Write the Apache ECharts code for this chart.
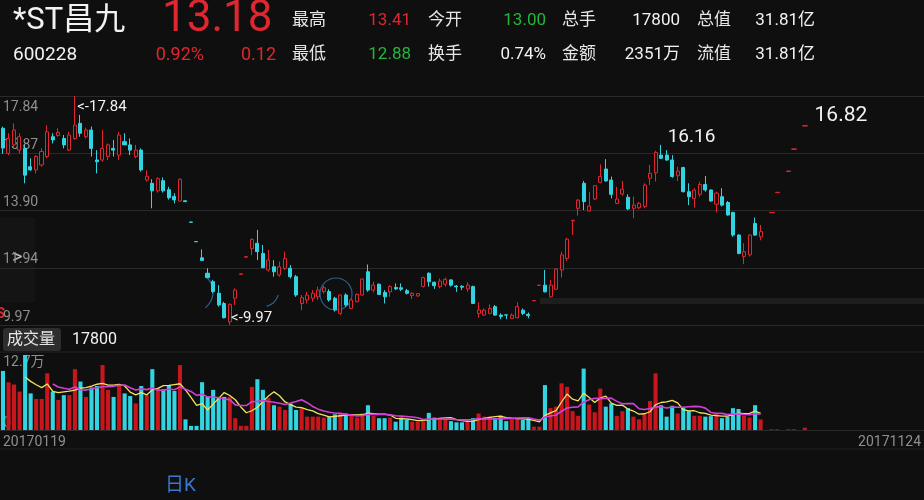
<!DOCTYPE html>
<html><head><meta charset="utf-8">
<script src="https://cdn.jsdelivr.net/npm/echarts@6/dist/echarts.min.js"></script>
<style>html,body{margin:0;padding:0;background:#0f0f0f;}#c{width:924px;height:500px;}</style>
</head><body><div id="c"></div>
<script>
// ---------- data ----------
const slotCount = 167;
const firstDate = '20170119';
const lastDate = '20171124';

const opens = [
16.73,15.87,16.16,15.98,16.04,15.41,15.30,15.47,15.76,16.44,
16.48,16.38,15.98,16.38,16.90,16.44,16.67,15.64,15.64,15.76,
16.04,15.81,16.27,16.16,15.76,15.98,14.95,14.84,14.58,14.93,
14.62,14.39,14.23,14.24,13.51,12.84,12.28,11.75,11.46,11.06,
10.71,10.08,10.89,11.71,12.30,12.60,12.78,12.43,11.86,11.97,
11.69,11.92,11.92,11.63,10.71,10.83,10.89,10.94,11.12,11.12,
10.89,10.37,11.00,10.54,10.77,11.00,11.80,11.17,11.37,11.09,
11.11,11.26,11.25,11.15,10.98,10.97,11.29,11.75,11.44,11.29,
11.37,11.52,11.31,11.30,11.21,11.29,10.37,10.31,10.37,10.60,
10.31,10.32,10.20,10.22,10.48,10.34,10.80,11.33,11.34,10.94,
11.20,11.86,12.26,13.55,13.98,14.84,13.89,14.30,14.87,15.33,
14.95,14.15,14.47,14.36,13.98,14.00,14.04,15.01,15.20,15.81,
15.81,15.64,15.10,15.38,14.55,14.32,14.46,14.80,14.61,14.12,
14.38,14.18,13.84,13.06,12.32,12.38,13.46,13.00];
const closes = [
16.05,16.38,16.67,16.44,15.12,15.30,15.76,15.93,16.61,16.33,
16.59,16.16,16.50,16.84,16.56,16.67,16.04,15.58,16.04,16.16,
15.98,16.50,16.16,15.98,15.98,15.30,15.08,14.58,15.00,14.58,
14.34,14.27,14.98,14.21,13.50,12.83,12.19,11.60,11.12,10.66,
10.22,10.68,11.17,11.73,12.32,12.91,12.49,11.94,12.20,11.80,
11.97,12.26,11.63,11.00,10.91,11.00,11.06,11.17,11.25,10.83,
10.49,11.00,10.66,10.83,11.02,11.55,11.17,11.34,11.02,10.94,
11.29,11.21,11.20,11.06,11.06,11.05,11.60,11.46,11.32,11.48,
11.54,11.34,11.28,11.27,11.34,10.71,10.49,10.48,10.54,10.31,
10.26,10.31,10.31,10.60,10.37,10.29,10.81,11.34,11.11,11.34,
11.89,12.38,12.92,13.57,14.26,14.21,14.06,14.76,15.07,14.92,
14.46,14.30,14.64,13.96,14.09,14.15,14.78,15.18,15.90,15.70,
15.64,15.07,15.26,14.55,14.38,14.61,14.80,14.61,14.23,14.50,
14.09,13.75,13.06,12.43,12.49,13.06,13.06,13.18];
const lows = [
15.85,15.81,16.04,15.87,14.84,15.27,15.18,15.41,15.70,16.21,
16.44,16.04,15.95,16.33,16.44,16.38,15.76,15.18,15.58,15.64,
15.76,15.64,16.16,15.81,15.70,15.24,14.90,13.98,14.52,14.52,
14.28,14.15,14.21,14.20,13.50,12.83,12.19,11.58,11.06,10.60,
10.20,9.97,10.66,11.71,12.30,12.37,12.20,11.92,11.80,11.63,
11.63,11.86,11.57,10.94,10.48,10.71,10.77,10.83,11.05,10.77,
10.43,10.31,10.60,10.52,10.75,10.98,11.11,11.09,11.00,10.71,
10.94,11.17,11.14,11.02,10.86,10.94,11.26,11.29,11.21,11.23,
11.29,11.29,11.11,11.17,11.11,10.69,10.22,10.29,10.34,10.29,
10.17,10.17,10.17,10.20,10.31,10.20,10.80,11.33,11.09,10.91,
11.17,11.60,12.17,13.06,13.73,13.92,13.86,14.26,14.84,14.90,
14.32,14.12,14.41,13.92,13.64,13.95,13.98,14.78,14.90,15.67,
15.61,15.03,14.92,14.53,14.09,14.00,14.38,14.55,14.21,13.84,
14.04,13.73,13.00,12.40,12.06,12.32,13.04,12.88];
const highs = [
16.79,16.56,16.90,16.56,16.16,15.70,15.81,16.04,16.84,16.56,
16.73,16.50,16.61,17.84,17.19,16.75,16.79,15.98,16.67,16.21,
16.33,16.61,16.56,16.38,16.16,16.04,15.28,14.98,15.05,15.04,
14.72,14.50,15.01,14.25,13.51,12.84,12.57,11.92,11.52,11.34,
10.77,10.71,11.23,11.73,12.32,12.95,13.24,12.72,12.55,12.20,
12.15,12.49,12.03,11.69,11.00,11.11,11.17,11.29,11.32,11.20,
10.94,11.02,11.06,10.86,11.06,11.57,12.05,11.46,11.40,11.17,
11.34,11.40,11.40,11.21,11.09,11.07,11.63,11.78,11.46,11.57,
11.60,11.54,11.34,11.34,11.44,11.32,10.75,10.54,10.68,10.66,
10.37,10.32,10.37,10.75,10.54,10.40,10.81,11.34,11.86,11.52,
11.92,12.49,12.97,13.58,14.30,14.92,14.55,14.78,15.49,15.67,
15.07,14.72,14.92,14.46,14.38,14.20,14.84,15.47,15.96,16.16,
15.98,15.81,15.41,15.41,14.84,14.67,14.90,15.09,14.63,14.55,
14.67,14.23,13.86,13.09,12.78,13.09,13.66,13.41];
const volumes = [
100000,80700,77000,65000,127000,62000,52500,52500,96000,65000,
51000,59000,59000,103000,82000,56000,72000,74500,110000,68000,
56000,77000,62000,57500,45000,74500,59000,103000,70600,69000,
76000,66000,110000,18000,7000,7000,81000,56000,68000,56000,
56000,56000,20000,7000,7000,73000,86000,68000,54000,42000,
39500,34000,45000,34000,37000,22600,22600,22600,21000,22600,
26500,28000,28000,24000,21000,28000,42000,24000,20000,20000,
21000,14000,21000,17000,14000,14000,14000,29000,21000,21000,
18000,15000,13000,13000,14000,20000,28000,22600,22600,20000,
24000,15000,18000,20000,17000,20000,5600,5600,76000,37000,
39500,79000,73000,32000,24000,104000,43000,30000,70000,39500,
45000,24000,32000,37000,22600,18000,28000,49000,96000,42000,
22600,41000,28000,38000,32000,24000,24000,22600,23500,28000,
20000,22600,37000,35600,24000,21000,42000,17800];
// one-price limit-up days drawn after the last session
const futureSlots  = [139, 140, 142, 143, 145];
const futureOpens  = [13.83, 14.52, 15.25, 16.01, 16.81];
const futureCloses = [13.84, 14.53, 15.26, 16.02, 16.82];
const futureVolumes = [1100, 1100, 1100, 1100, 4000];

const priceMin = 9.97, priceMax = 17.84;
const priceTickLabels = ['9.97', '11.94', '13.90', '15.87', '17.84'];
const volumeMax = 127000;
const volumeMaxLabel = '12.7万';

// ---------- styling ----------
const BG = '#0f0f0f', RED = '#e0262e', RED_VOL = '#c9161d', CYAN = '#31d4e0', GREEN = '#22b63a';
const GRID = '#2a2a2a', LABEL = '#8f8f8f';
const FONT = 'Roboto, "Noto Sans CJK SC", sans-serif';

const cats = Array.from({length: slotCount}, (_, i) => String(i));
const candleData = cats.map((_, i) => i < opens.length ? [opens[i], closes[i], lows[i], highs[i]] : ['-', '-', '-', '-']);
const futureData = cats.map(() => ['-', '-', '-', '-']);
futureSlots.forEach((s, k) => { futureData[s] = [futureOpens[k], futureCloses[k], futureOpens[k], futureCloses[k]]; });
const volData = cats.map((_, i) => i < volumes.length ? volumes[i] : '-');
futureSlots.forEach((s, k) => { volData[s] = futureVolumes[k]; });
const volUp = cats.map((_, i) => i < opens.length ? closes[i] >= opens[i] : true);

function movingAverage(n) {
  return cats.map((_, i) => {
    if (i >= volumes.length || i < n - 1) return '-';
    let s = 0; for (let k = i - n + 1; k <= i; k++) s += volumes[k];
    return +(s / n).toFixed(0);
  });
}
const ma5 = movingAverage(5), ma10 = movingAverage(10);

// extreme points for labels
let hiIdx = 0, loIdx = 0;
highs.forEach((h, i) => { if (h > highs[hiIdx]) hiIdx = i; });
lows.forEach((l, i) => { if (l < lows[loIdx]) loIdx = i; });
let hi2Idx = loIdx;
for (let i = loIdx; i < highs.length; i++) if (highs[i] > highs[hi2Idx]) hi2Idx = i;
const lastF = futureSlots.length - 1;

const priceInterval = (priceMax - priceMin) / 4;
function priceLabel(v) { return priceTickLabels[Math.round((v - priceMin) / priceInterval)] || ''; }

function txt(text, x, y, size, color, align, weight) {
  return { type: 'text', x: x, y: y, silent: true, style: {
    text: text, fill: color, fontSize: size, fontFamily: FONT, fontWeight: weight || 'normal',
    align: align || 'left', textAlign: align || 'left', verticalAlign: 'middle', textVerticalAlign: 'middle' } };
}

const chart = echarts.init(document.getElementById('c'), null, {renderer: 'canvas'});
chart.setOption({
  backgroundColor: BG,
  animation: false,
  grid: [
    {left: 0, right: 0, top: 96, height: 229},
    {left: 0, right: 0, top: 355, height: 75}
  ],
  xAxis: [
    {type: 'category', gridIndex: 0, data: cats, boundaryGap: true, position: 'bottom',
     axisLine: {show: false}, axisTick: {show: false}, axisLabel: {show: false}, splitLine: {show: false}},
    {type: 'category', gridIndex: 1, data: cats, boundaryGap: true, position: 'bottom',
     axisLine: {show: true, lineStyle: {color: GRID}}, axisTick: {show: false}, splitLine: {show: false},
     axisLabel: {show: true, interval: (i) => i === 0, formatter: () => firstDate, align: 'left',
       color: LABEL, fontSize: 14, fontFamily: FONT, margin: 6}},
    {type: 'category', gridIndex: 1, data: cats, boundaryGap: true, position: 'bottom',
     axisLine: {show: false}, axisTick: {show: false}, splitLine: {show: false},
     axisLabel: {show: true, interval: (i) => i === slotCount - 1, formatter: () => lastDate, align: 'right',
       color: LABEL, fontSize: 14, fontFamily: FONT, margin: 6}}
  ],
  yAxis: [
    {type: 'value', gridIndex: 0, position: 'left', min: priceMin, max: priceMax, interval: priceInterval,
     axisLine: {show: false}, axisTick: {show: false},
     splitLine: {show: true, lineStyle: {color: GRID, width: 1}},
     axisLabel: {inside: true, margin: 3, color: LABEL, fontSize: 14, fontFamily: FONT, verticalAlign: 'bottom',
       padding: [0, 0, 1, 0],
       formatter: (v) => (Math.abs(v - priceMax) < 1e-6 ? '' : priceLabel(v))}},
    {type: 'value', gridIndex: 0, position: 'left', min: priceMin, max: priceMax, interval: priceInterval,
     axisLine: {show: false}, axisTick: {show: false}, splitLine: {show: false},
     axisLabel: {inside: true, margin: 3, color: LABEL, fontSize: 14, fontFamily: FONT, verticalAlign: 'top',
       padding: [5, 0, 0, 0],
       formatter: (v) => (Math.abs(v - priceMax) < 1e-6 ? priceLabel(v) : '')}},
    {type: 'value', gridIndex: 1, position: 'left', min: 0, max: volumeMax, interval: volumeMax,
     axisLine: {show: false}, axisTick: {show: false}, splitLine: {show: false},
     axisLabel: {inside: true, margin: 3, color: LABEL, fontSize: 14, fontFamily: FONT, verticalAlign: 'bottom',
       formatter: (v) => (v === 0 ? '0' : '')}},
    {type: 'value', gridIndex: 1, position: 'left', min: 0, max: volumeMax, interval: volumeMax,
     axisLine: {show: false}, axisTick: {show: false}, splitLine: {show: false},
     axisLabel: {inside: true, margin: 3, color: LABEL, fontSize: 14, fontFamily: FONT, verticalAlign: 'top',
       padding: [1, 0, 0, 0],
       formatter: (v) => (v === volumeMax ? volumeMaxLabel : '')}}
  ],
  series: [
    {type: 'candlestick', name: 'K', xAxisIndex: 0, yAxisIndex: 0, data: candleData, barWidth: '64%',
     itemStyle: {color: BG, color0: CYAN, borderColor: RED, borderColor0: CYAN, borderWidth: 1},
     markPoint: {symbol: 'circle', symbolSize: 1, itemStyle: {color: 'rgba(0,0,0,0)'}, animation: false,
       data: [
        {coord: [hiIdx, highs[hiIdx]], label: {show: true, position: 'right', distance: 2, offset: [0, 11],
          formatter: '<-' + highs[hiIdx].toFixed(2), color: '#f2f2f2', fontSize: 15, fontFamily: FONT}},
        {coord: [loIdx, lows[loIdx]], label: {show: true, position: 'right', distance: 1, offset: [0, -7],
          formatter: '<-' + lows[loIdx].toFixed(2), color: '#f2f2f2', fontSize: 15, fontFamily: FONT}},
        {coord: [hi2Idx, highs[hi2Idx]], label: {show: true, position: 'right', distance: 6, offset: [0, -8],
          formatter: highs[hi2Idx].toFixed(2), color: '#f2f2f2', fontSize: 19, fontFamily: FONT}}
       ]}},
    {type: 'candlestick', name: 'F', xAxisIndex: 0, yAxisIndex: 0, data: futureData, barWidth: '92%',
     itemStyle: {color: RED, color0: RED, borderColor: RED, borderColor0: RED, borderWidth: 1},
     markPoint: {symbol: 'circle', symbolSize: 1, itemStyle: {color: 'rgba(0,0,0,0)'}, animation: false,
       data: [
        {coord: [futureSlots[lastF], futureCloses[lastF]], label: {show: true, position: 'right', distance: 9,
          offset: [0, -10], formatter: futureCloses[lastF].toFixed(2), color: '#f2f2f2', fontSize: 21, fontFamily: FONT}}
       ]}},
    {type: 'bar', name: 'VOL', xAxisIndex: 1, yAxisIndex: 2, data: volData, barWidth: '74%',
     itemStyle: {color: (p) => (volUp[p.dataIndex] ? RED_VOL : CYAN)}},
    {type: 'line', name: 'MA5', xAxisIndex: 1, yAxisIndex: 2, data: ma5, symbol: 'none',
     lineStyle: {color: '#f0e35c', width: 1.3}},
    {type: 'line', name: 'MA10', xAxisIndex: 1, yAxisIndex: 2, data: ma10, symbol: 'none',
     lineStyle: {color: '#d23fd8', width: 1.6}}
  ],
  graphic: {elements: [
    // overlay widgets on the price pane
    {type: 'rect', silent: true, shape: {x: 0, y: 218, width: 35, height: 84}, style: {fill: '#141414'}},
    txt('>', 12, 258, 20, '#bbbbbb'),
    txt('S', -4, 314, 15, RED, 'left', 'bold'),
    {type: 'rect', silent: true, shape: {x: 540, y: 298, width: 384, height: 6}, style: {fill: '#1e1e1e'}},
    {type: 'circle', silent: true, shape: {cx: 336, cy: 294, r: 16}, style: {fill: 'none', stroke: '#2f5d8c', lineWidth: 1.2}},
    {type: 'arc', silent: true, shape: {cx: 193, cy: 292, r: 20, startAngle: -0.9, endAngle: 0.9}, style: {fill: 'none', stroke: '#2f5d8c', lineWidth: 1.2}},
    {type: 'arc', silent: true, shape: {cx: 262, cy: 290, r: 17, startAngle: 0.3, endAngle: 1.3}, style: {fill: 'none', stroke: '#2f5d8c', lineWidth: 1.2}},
    // separators
    {type: 'line', silent: true, shape: {x1: 0, y1: 352, x2: 924, y2: 352}, style: {stroke: '#222', lineWidth: 1}},
    {type: 'line', silent: true, shape: {x1: 0, y1: 449, x2: 924, y2: 449}, style: {stroke: '#222', lineWidth: 1}},
    // header
    txt('*ST昌九', 13, 21, 31, '#f2f2f2'),
    txt('13.18', 162, 20, 44, RED),
    txt('最高', 292, 21, 17, '#e6e6e6'),
    txt('13.41', 411, 21, 17, RED, 'right'),
    txt('今开', 428, 21, 17, '#e6e6e6'),
    txt('13.00', 546, 21, 17, GREEN, 'right'),
    txt('总手', 562, 21, 17, '#e6e6e6'),
    txt('17800', 680, 21, 17, '#f2f2f2', 'right'),
    txt('总值', 697, 21, 17, '#e6e6e6'),
    txt('31.81亿', 815, 21, 17, '#f2f2f2', 'right'),
    txt('600228', 13, 55, 19, '#f2f2f2'),
    txt('0.92%', 204, 55, 18, RED, 'right'),
    txt('0.12', 276, 55, 18, RED, 'right'),
    txt('最低', 292, 55, 17, '#e6e6e6'),
    txt('12.88', 411, 55, 17, GREEN, 'right'),
    txt('换手', 428, 55, 17, '#e6e6e6'),
    txt('0.74%', 546, 55, 17, '#f2f2f2', 'right'),
    txt('金额', 562, 55, 17, '#e6e6e6'),
    txt('2351万', 680, 55, 17, '#f2f2f2', 'right'),
    txt('流值', 697, 55, 17, '#e6e6e6'),
    txt('31.81亿', 815, 55, 17, '#f2f2f2', 'right'),
    // volume pane header
    {type: 'rect', silent: true, shape: {x: 3, y: 328, width: 58, height: 23, r: 3}, style: {fill: '#2e2e2e'}},
    txt('成交量', 7, 339.5, 16, '#e6e6e6'),
    txt('17800', 72, 339.5, 16, '#f2f2f2'),
    // footer
    txt('日K', 165, 486, 19, '#3a78d0')
  ]}
});
</script></body></html>
